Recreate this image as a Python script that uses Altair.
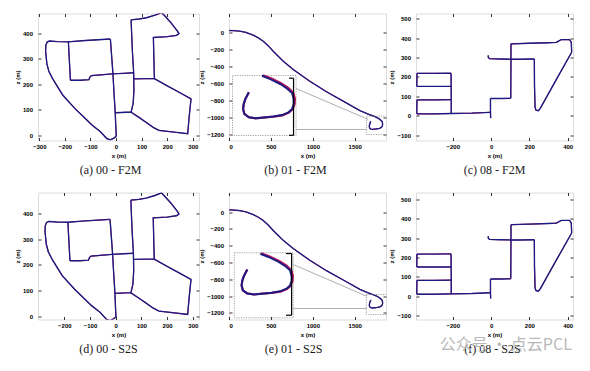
import altair as alt
import pandas as pd

# ---------------- data (x, z in metres) ----------------
# KITTI 00 : one list per road segment
S00_X = [
    [-23, -70, -120, -186, -230, -260, -269, -274, -275, -270, -262, -247, -228, -208, -191, -160, -126, -95, -61, -36, -22, -8, 1],
    [1, -1, -3, -8, -12, -17, -22],
    [-186, -182, -178],
    [-178, -140, -106, -102, -96, -60, -12, 30, 69],
    [59, 61, 64, 69, 70, 67, 59],
    [70, 110, 150],
    [-3, 20, 40, 59],
    [59, 88, 117, 145, 168, 220, 280, 286, 293, 250, 200, 150],
    [150, 148, 146, 200, 236, 246, 240, 215, 190, 178, 152, 119, 90, 59],
]
S00_Z = [
    [377, 374, 371, 366, 367, 369, 365, 352, 330, 280, 250, 221, 190, 158, 139, 105, 72, 42, 15, -12, -17, -10, -3],
    [-3, 40, 89, 170, 241, 310, 377],
    [366, 290, 216],
    [216, 216, 218, 228, 234, 237, 241, 243, 245],
    [452, 400, 330, 245, 176, 125, 91],
    [221, 222, 222],
    [89, 90, 91, 91],
    [91, 72, 52, 32, 20, 14, 7, 75, 143, 167, 194, 222],
    [222, 300, 383, 386, 391, 398, 408, 440, 468, 480, 470, 460, 455, 452],
]

# KITTI 01 : highway run ending in a loop
S01_X = [2, 60, 129, 200, 289, 350, 408, 470, 527, 590, 647, 766, 964, 1163, 1363, 1561, 1680, 1733,
         1759, 1790, 1811, 1827, 1832, 1832, 1827, 1816, 1796, 1769, 1738, 1713, 1692, 1678, 1674, 1676, 1681, 1692]
S01_Z = [27, 25, 19, 5, -28, -60, -99, -155, -218, -280, -336, -434, -573, -698, -809, -920, -970, -988,
         -1000, -1018, -1034, -1051, -1073, -1091, -1109, -1121, -1131, -1136, -1140, -1143, -1139, -1127, -1109, -1091, -1073, -1048]

# KITTI 01 loop as seen in the magnified inset: estimate and ground truth
L01_X = [1733, 1759, 1790, 1811, 1827, 1832, 1832, 1827, 1816, 1796, 1769, 1738, 1713, 1692, 1678, 1674, 1676, 1681, 1692]
L01_Z = [-988, -1000, -1018, -1034, -1051, -1073, -1091, -1109, -1121, -1131, -1136, -1140, -1143, -1139, -1127, -1109, -1091, -1073, -1048]
L01G_X = [1736, 1763, 1794, 1815, 1831, 1836, 1835, 1829, 1817, 1797, 1769, 1738, 1713, 1692, 1678, 1674, 1676, 1681, 1692]
L01G_Z = [-986, -998, -1016, -1032, -1050, -1072, -1091, -1110, -1122, -1132, -1137, -1140, -1143, -1139, -1127, -1109, -1091, -1073, -1048]

# KITTI 08 : one list per road segment
S08_X = [
    [-387, -300, -209],
    [-387, -300, -209],
    [-387, -300, -209],
    [-387, -300, -209, -100, -3],
    [-387, -388],
    [-387, -388],
    [-209, -208, -208],
    [-2, -3, -3],
    [-3, 50, 103],
    [103, 104, 104],
    [104, 200, 300, 341, 367, 410, 419, 421],
    [421, 340, 257, 247, 235, 230, 227, 226],
    [226, 150, 104, 50, -8, -14, -15],
]
S08_Z = [
    [218, 218, 219],
    [151, 151, 151],
    [82, 82, 83],
    [10, 10, 12, 14, 18],
    [218, 151],
    [82, 10],
    [219, 100, 12],
    [-12, 18, 89],
    [89, 89, 90],
    [90, 290, 370],
    [370, 373, 376, 378, 392, 392, 379, 327],
    [327, 185, 38, 26, 29, 43, 150, 292],
    [292, 291, 291, 292, 294, 300, 311],
]

CAPTIONS = ["(a) 00 - F2M", "(b) 01 - F2M", "(c) 08 - F2M",
            "(d) 00 - S2S", "(e) 01 - S2S", "(f) 08 - S2S"]
XT00 = [-300, -200, -100, 0, 100, 200, 300]
XT00D = [-200, -100, 0, 100, 200, 300]
YT00 = [0, 100, 200, 300, 400]
XT01 = [0, 500, 1000, 1500]
YT01 = [0, -200, -400, -600, -800, -1000, -1200]
XT08 = [-200, 0, 200, 400]
YT08 = [-100, 0, 100, 200, 300, 400, 500]
WATERMARK = "公众号 · 点云PCL"

# ---------------- styling / layout ----------------
SANS = "Liberation Sans"
SERIF = "Liberation Serif"
NAVY = "#1b1b82"
RED = "#c2185b"
AXIS = dict(domain=False, grid=False, tickSize={"expr": "-3"}, tickColor="black", tickWidth=0.8,
            labelFont=SANS, labelFontSize=6, labelFontWeight="bold", labelColor="black",
            titleFont=SANS, titleFontSize=6, titleFontWeight="bold", titleColor="black")
LOOP_REGION = (1641, 1840, -1204, -987)
INSET_B = dict(frame=(42, 800, -1215, -505), target=(42, 802, -1211, -505),
               bracket=(716, 770, -537, -1213),
               links=[(800, -659, 1661, -1026), (800, -1144, 1641, -1144)],
               small=(1641, 1880, -1204, -987))
INSET_E = dict(frame=(63, 767, -1260, -484), target=(26, 777, -1173, -493),
               bracket=(680, 747, -493, -1229),
               links=[(767, -624, 1642, -1002), (767, -1149, 1642, -1149)],
               small=(1638, 1880, -1221, -982))


def seg_frame(xs, zs):
    rows = []
    for s, (sx, sz) in enumerate(zip(xs, zs)):
        for i, (x, z) in enumerate(zip(sx, sz)):
            rows.append({"x": x, "z": z, "seg": s, "i": i})
    return pd.DataFrame(rows)


def inset_layers(xs, ys, p):
    lx0, lx1, lz0, lz1 = LOOP_REGION
    tx0, tx1, tz0, tz1 = p["target"]
    fx = (tx1 - tx0) / (lx1 - lx0)
    fz = (tz1 - tz0) / (lz1 - lz0)
    calc = dict(xi=f"{tx0} + (datum.x - {lx0}) * {fx}",
                zi=f"{tz0} + (datum.z - {lz0}) * {fz}")
    rect_df = pd.DataFrame([
        {"x": p["frame"][0], "x2": p["frame"][1], "z": p["frame"][2], "z2": p["frame"][3]},
        {"x": p["small"][0], "x2": p["small"][1], "z": p["small"][2], "z2": p["small"][3]},
    ])
    rects = alt.Chart(rect_df).mark_rect(fillOpacity=0, stroke="#8a8a8a", strokeWidth=0.8,
                                         strokeDash=[1.2, 1.2], clip=True).encode(
        x=alt.X("x:Q", scale=xs, axis=None), x2="x2:Q",
        y=alt.Y("z:Q", scale=ys, axis=None), y2="z2:Q")
    link_df = pd.DataFrame([{"x": a, "z": b, "x2": c, "z2": d} for a, b, c, d in p["links"]])
    links = alt.Chart(link_df).mark_rule(color="#9a9a9a", strokeWidth=0.8).encode(
        x=alt.X("x:Q", scale=xs, axis=None), x2="x2:Q",
        y=alt.Y("z:Q", scale=ys, axis=None), y2="z2:Q")
    bx0, bx1, bz0, bz1 = p["bracket"]
    br_df = pd.DataFrame([{"x": bx1, "z": bz0, "x2": bx1, "z2": bz1},
                          {"x": bx0, "z": bz0, "x2": bx1, "z2": bz0},
                          {"x": bx0, "z": bz1, "x2": bx1, "z2": bz1}])
    bracket = alt.Chart(br_df).mark_rule(color="black", strokeWidth=1.2).encode(
        x=alt.X("x:Q", scale=xs, axis=None), x2="x2:Q",
        y=alt.Y("z:Q", scale=ys, axis=None), y2="z2:Q")
    gdf = pd.DataFrame({"x": L01G_X, "z": L01G_Z, "i": range(len(L01G_X))})
    edf = pd.DataFrame({"x": L01_X, "z": L01_Z, "i": range(len(L01_X))})
    gt = alt.Chart(gdf).transform_calculate(**calc).mark_line(color=RED, strokeWidth=2.2).encode(
        x=alt.X("xi:Q", scale=xs, axis=None), y=alt.Y("zi:Q", scale=ys, axis=None), order="i:Q")
    est = alt.Chart(edf).transform_calculate(**calc).mark_line(color=NAVY, strokeWidth=2.0).encode(
        x=alt.X("xi:Q", scale=xs, axis=None), y=alt.Y("zi:Q", scale=ys, axis=None), order="i:Q")
    return [rects, links, gt, est, bracket]


def panel(df, xdom, ydom, xt, yt, w, h, caption, dx, inset=None):
    xs = alt.Scale(domain=xdom, nice=False, zero=False)
    ys = alt.Scale(domain=ydom, nice=False, zero=False)
    ax_x = alt.Axis(values=xt, format="d", title="x (m)", labelPadding=5.5, titlePadding=3, **AXIS)
    ax_y = alt.Axis(values=yt, format="d", title="z (m)", labelPadding=8.5, titlePadding=2, **AXIS)
    gt = alt.Chart(df).mark_line(color=RED, strokeWidth=1.1, clip=True).encode(
        x=alt.X("x:Q", scale=xs, axis=ax_x), y=alt.Y("z:Q", scale=ys, axis=ax_y),
        detail="seg:N", order="i:Q")
    est = alt.Chart(df).mark_line(color=NAVY, strokeWidth=1.35, clip=True).encode(
        x=alt.X("x:Q", scale=xs, axis=None), y=alt.Y("z:Q", scale=ys, axis=None),
        detail="seg:N", order="i:Q")
    mirror = alt.Chart(df).mark_point(opacity=0, clip=True).encode(
        x=alt.X("x:Q", scale=xs, axis=alt.Axis(orient="top", values=xt, labels=False, title=None, **AXIS)),
        y=alt.Y("z:Q", scale=ys, axis=alt.Axis(orient="right", values=yt, labels=False, title=None, **AXIS)))
    layers = [gt, est, mirror]
    if inset is not None:
        layers += inset_layers(xs, ys, inset)
    return alt.layer(*layers).resolve_axis(x="independent", y="independent").properties(
        width=w, height=h,
        title=alt.TitleParams(caption, orient="bottom", font=SERIF, fontSize=12,
                              fontWeight="normal", color="#1a1a1a", offset=7, dx=dx))


d00 = seg_frame(S00_X, S00_Z)
d01 = seg_frame([S01_X], [S01_Z])
d08 = seg_frame(S08_X, S08_Z)

pa = panel(d00, [-304.7, 324.2], [-19.5, 476.6], XT00, YT00, 161, 127, CAPTIONS[0], -8)
pb = panel(d01, [0, 1873], [-1274.6, 228.4], XT01, YT01, 157, 127, CAPTIONS[1], -12, inset=INSET_B)
pc = panel(d08, [-392, 428], [-127, 526.2], XT08, YT08, 157, 127, CAPTIONS[2], 0)
pd_ = panel(d00, [-302.3, 324.1], [-12.9, 481.7], XT00D, YT00, 161, 127, CAPTIONS[3], -10)
pe = panel(d01, [0, 1873], [-1280, 235], XT01, YT01, 157, 127, CAPTIONS[4], -14, inset=INSET_E)
pf = panel(d08, [-392, 428], [-120.5, 536.5], XT08, YT08, 157, 127, CAPTIONS[5], -2)

chart = alt.concat(pa, pb, pc, pd_, pe, pf, columns=3, spacing={"row": 52, "column": 30},
                   bounds="flush", align="each").properties(
    padding={"left": 13, "top": 12.5, "right": 5, "bottom": 5},
    title=alt.TitleParams(WATERMARK, orient="bottom", anchor="end", font="Noto Sans CJK SC",
                          fontSize=16, fontWeight="normal", color="#b8b8b8", offset=-19, dx=-2)
).configure_view(stroke="black", strokeWidth=0.9).configure(background="white")

chart.save("out.html", embed_options={"renderer": "svg", "actions": False})
